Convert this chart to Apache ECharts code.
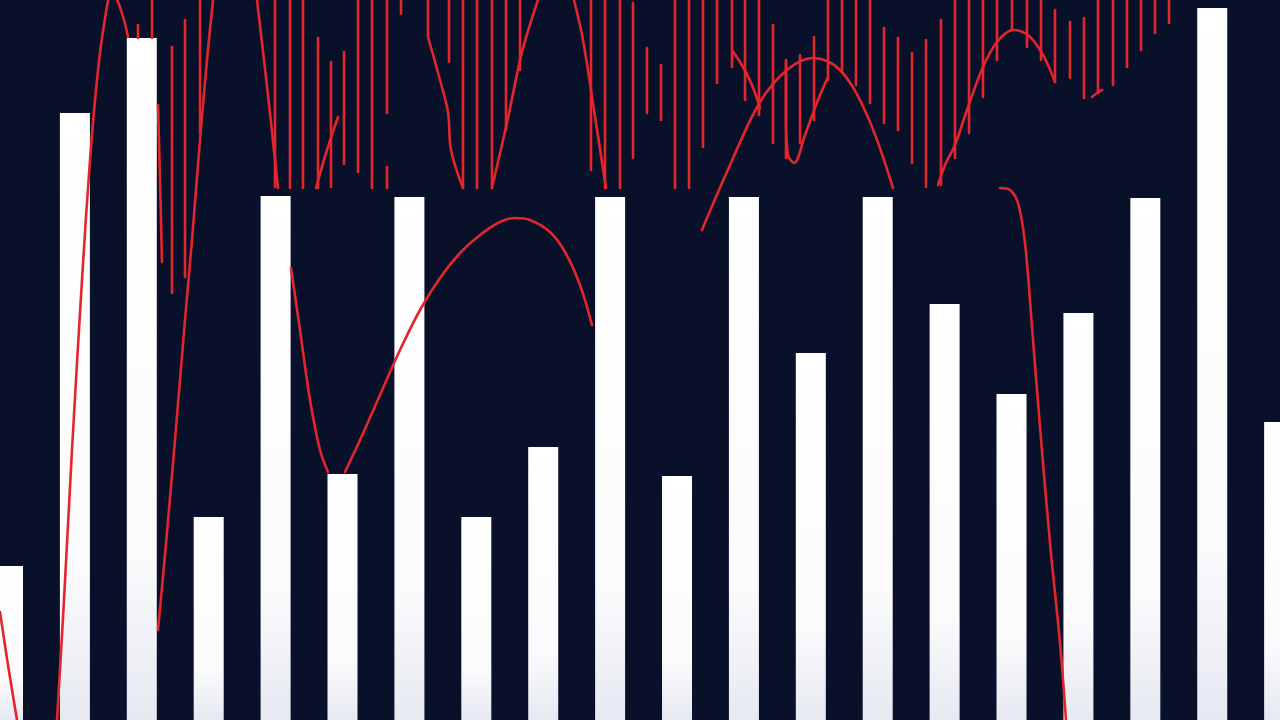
<!DOCTYPE html>
<html>
<head>
<meta charset="utf-8">
<script src="https://cdn.jsdelivr.net/npm/echarts@6/dist/echarts.min.js"></script>
<style>
  html, body { margin: 0; padding: 0; background: #09112a; }
  #chart { width: 1280px; height: 720px; }
</style>
</head>
<body>
<div id="chart"></div>
<script>
// ---- Data ----
const categories = [0,1,2,3,4,5,6,7,8,9,10,11,12,13,14,15,16,17,18,19];
const barValues = [154, 607, 682, 203, 524, 246, 523, 203, 273, 523, 244, 523, 367, 523, 416, 326, 407, 522, 712, 298];

// comb of thin red strokes: [x, yStart, yEnd] (y measured downward)
const combLines = [
  [138,25,38],[152,0,38],[172,47,293],[185,20,277],[200,0,133],
  [275,0,187],[290,0,188],[303,0,188],[318,38,188],[331,62,187],
  [344,52,164],[358,0,172],[372,0,188],[387,0,113],[387,167,188],
  [401,0,14],[428,0,37],[449,0,62],[463,0,188],[477,0,188],
  [492,0,188],[506,0,130],[520,0,70],[591,0,170],[605,0,188],
  [620,0,188],[633,3,158],[647,48,113],[661,65,120],[675,0,188],
  [689,0,188],[703,0,147],[717,0,83],[732,0,67],[745,0,100],
  [759,0,115],[773,25,143],[786,60,158],[800,55,143],[814,37,120],
  [828,0,80],[842,0,72],[856,0,85],[870,0,103],[884,28,123],
  [898,38,130],[912,53,163],[926,40,187],[941,20,185],[955,0,158],
  [969,0,133],[983,0,97],[997,0,60],[1012,0,30],[1027,0,47],
  [1041,0,60],[1055,10,82],[1070,22,78],[1084,18,98],[1098,0,93],
  [1113,0,85],[1127,0,67],[1141,0,50],[1155,0,33],[1169,0,23]
];

// red curves: [x, y] (y measured downward)
const curveA = [[0,612],[8,665],[17,720]];
const curveB = [[57,720],[64,600],[72,450],[82,280],[90,160],[97,80],[104,25],[112,-8],[118,2],[124,20],[128,37]];
const curveC = [[158,105],[160,180],[162,262]];
const curveD = [[158,630],[165,555],[175,440],[185,320],[192,240],[200,140],[207,60],[213,0]];
const curveE = [[257,0],[268,95],[278,188]];
const curveF = [[291,268],[300,330],[310,400],[320,450],[328,472]];
const curveG = [[345,472],[360,440],[380,395],[400,350],[420,310],[440,278],[460,253],[480,235],[500,222],[515,218],[530,220],[550,232],[565,252],[580,285],[592,325]];
const curveH = [[316,188],[327,150],[338,117]];
const curveI = [[428,37],[440,80],[448,112],[451,150],[463,188]];
const curveJ = [[492,188],[508,118],[522,52],[538,0]];
const curveK = [[574,0],[583,40],[594,110],[606,188]];
const curveL = [[732,50],[743,67],[752,85],[760,108]];
const curveM = [[702,230],[730,165],[760,102],[787,70],[813,58],[840,70],[867,115],[893,188]];
const curveN = [[786,62],[786,120],[788,155],[794,163],[805,135],[818,100],[828,77]];
const curveO = [[938,185],[945,165],[955,145],[967,110],[983,67],[997,42],[1013,30],[1028,35],[1040,50],[1048,65],[1055,82]];
const curveP = [[1092,97],[1097,93],[1102,90]];
const curveQ = [[1000,188],[1010,190],[1018,203],[1025,243],[1032,327],[1040,427],[1050,543],[1060,643],[1066,720]];

const curves = [curveA, curveB, curveC, curveD, curveE, curveF, curveG, curveH, curveI, curveJ, curveK, curveL, curveM, curveN, curveO, curveP, curveQ];

// ---- Chart ----
const RED = '#e3262c';
const chart = echarts.init(document.getElementById('chart'), null, { renderer: 'canvas' });

const lineSeries = curves.map((c, i) => ({
  type: 'line',
  name: 'curve' + i,
  xAxisIndex: 1,
  yAxisIndex: 1,
  data: c,
  smooth: 0.35,
  symbol: 'none',
  lineStyle: { color: RED, width: 2.6, cap: 'round' },
  z: 4,
  silent: true
}));

const option = {
  backgroundColor: '#09112a',
  animation: false,
  grid: [
    { left: 0, top: 0, right: 0, bottom: 0, containLabel: false },
    { left: 0, top: 0, right: 0, bottom: 0, containLabel: false }
  ],
  xAxis: [
    // bar slots: slot i centred at 8 + 66.9*i px
    { type: 'value', gridIndex: 0, min: -0.1196, max: 19.013, show: false, splitLine: { show: false } },
    { type: 'value', gridIndex: 1, min: 0, max: 1280, show: false, splitLine: { show: false } }
  ],
  yAxis: [
    { type: 'value', gridIndex: 0, min: 0, max: 720, show: false, splitLine: { show: false } },
    { type: 'value', gridIndex: 1, min: 0, max: 720, inverse: true, show: false, splitLine: { show: false } }
  ],
  series: [
    {
      type: 'bar',
      xAxisIndex: 0,
      yAxisIndex: 0,
      data: categories.map((c, i) => [c, barValues[i]]),
      barWidth: 30,
      itemStyle: {
        color: new echarts.graphic.LinearGradient(0, 0, 0, 1, [
          { offset: 0, color: '#ffffff' },
          { offset: 0.75, color: '#fbfbfd' },
          { offset: 1, color: '#e6e9f1' }
        ])
      },
      z: 2,
      silent: true
    },
    {
      type: 'custom',
      xAxisIndex: 1,
      yAxisIndex: 1,
      data: combLines,
      z: 3,
      silent: true,
      renderItem: function (params, api) {
        const p0 = api.coord([api.value(0), api.value(1)]);
        const p1 = api.coord([api.value(0), api.value(2)]);
        return {
          type: 'line',
          shape: { x1: p0[0], y1: p0[1], x2: p1[0], y2: p1[1] },
          style: { stroke: RED, lineWidth: 2.6, lineCap: 'round' }
        };
      }
    }
  ].concat(lineSeries)
};

chart.setOption(option);
</script>
</body>
</html>
